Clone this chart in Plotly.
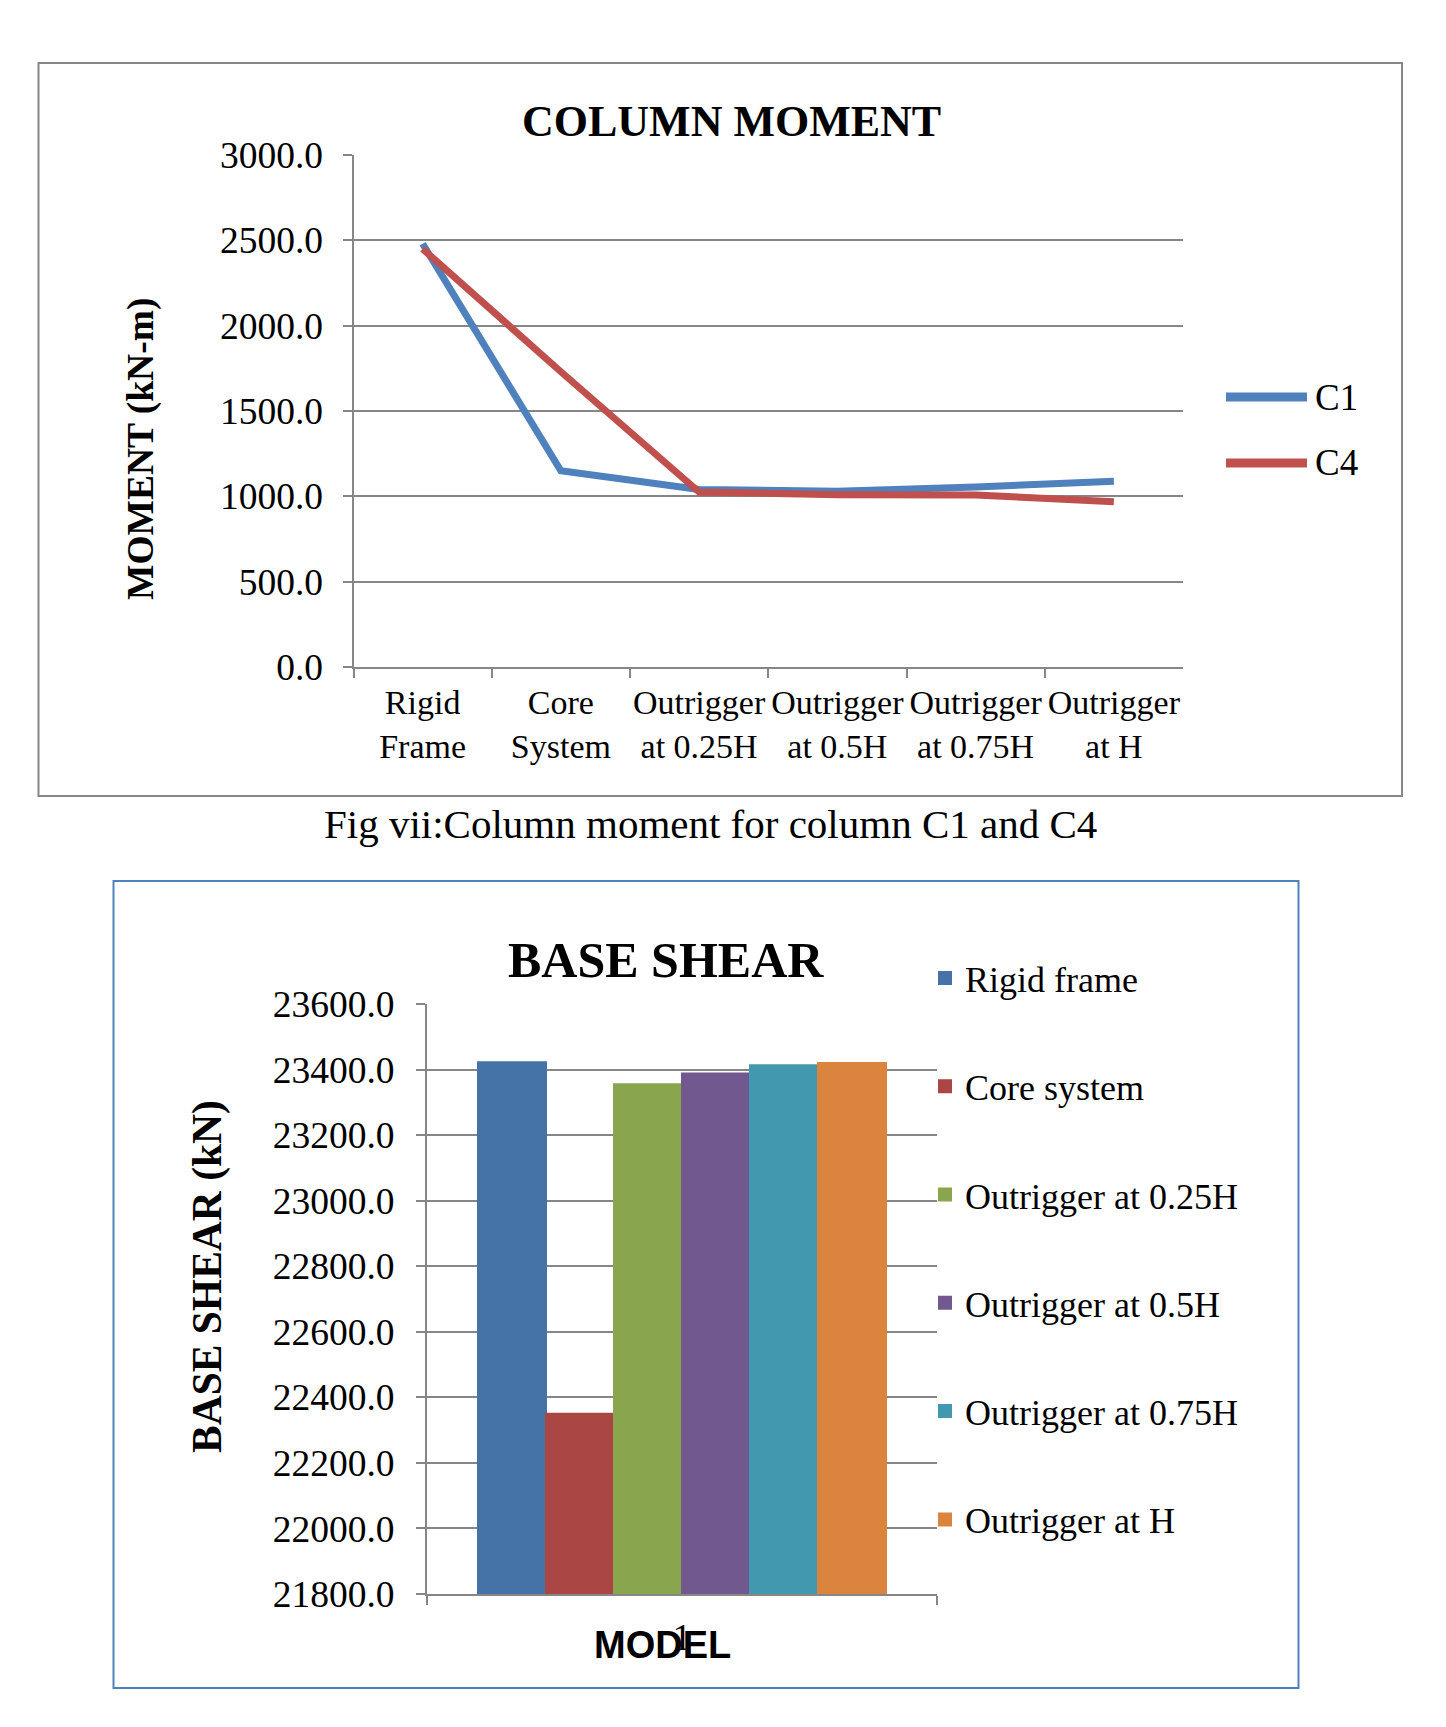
import plotly.graph_objects as go

W, H = 1446, 1727

# ---------------- data ----------------
moment_categories = ["Rigid<br>Frame", "Core<br>System", "Outrigger<br>at 0.25H",
                     "Outrigger<br>at 0.5H", "Outrigger<br>at 0.75H", "Outrigger<br>at H"]
c1_moment = [2480.0, 1150.0, 1040.0, 1030.0, 1055.0, 1088.0]
c4_moment = [2450.0, 1730.0, 1025.0, 1010.0, 1008.0, 968.0]

shear_models = ["Rigid frame", "Core system", "Outrigger at 0.25H",
                "Outrigger at 0.5H", "Outrigger at 0.75H", "Outrigger at H"]
shear_values = [23422.0, 22350.0, 23355.0, 23388.0, 23413.0, 23420.0]
shear_category = ["1"]

# ---------------- styles ----------------
line_colors = ["#4F81BD", "#C0504D"]
bar_colors = ["#4572A7", "#AA4643", "#89A54E", "#71588F", "#4198AF", "#DB843D"]
GRID = "#868686"
SERIF = "Liberation Serif, Times New Roman, serif"
SANS = "Liberation Sans, Arial, sans-serif"


def px(x):
    return x / W


def py(y):
    return 1 - y / H


fig = go.Figure()

fig.add_trace(go.Scatter(x=moment_categories, y=c1_moment, mode="lines", name="C1",
                         line=dict(color=line_colors[0], width=7), showlegend=False,
                         xaxis="x", yaxis="y"))
fig.add_trace(go.Scatter(x=moment_categories, y=c4_moment, mode="lines", name="C4",
                         line=dict(color=line_colors[1], width=7), showlegend=False,
                         xaxis="x", yaxis="y"))

for i, (name, val) in enumerate(zip(shear_models, shear_values)):
    fig.add_trace(go.Bar(x=shear_category, y=[val], name=name, marker_color=bar_colors[i],
                         marker_line=dict(color=bar_colors[i], width=2),
                         xaxis="x2", yaxis="y2", legend="legend", legendgroup=name))

axis_common = dict(showline=True, linecolor=GRID, linewidth=2, ticks="outside",
                   tickcolor=GRID, tickwidth=2, ticklen=9, zeroline=False, automargin=False)
xfont = dict(family=SERIF, size=34, color="black")
yfont = dict(family=SERIF, size=37.5, color="black")

fig.update_layout(
    template="none",
    width=W, height=H,
    margin=dict(l=0, r=0, t=0, b=0, pad=0),
    paper_bgcolor="white", plot_bgcolor="white",
    showlegend=True,
    barmode="group", bargap=0.2, bargroupgap=0,
    xaxis=dict(domain=[px(353.5), px(1183)], anchor="y", type="category",
               range=[-0.5, 5.5], tickson="boundaries", showgrid=False, tickfont=xfont,
               tickangle=0, ticklabelstandoff=4, **axis_common),
    yaxis=dict(domain=[py(667), py(155)], anchor="x", range=[0, 3000], dtick=500,
               tickformat=".1f", showgrid=True, gridcolor=GRID, gridwidth=2,
               tickfont=yfont, ticklabelstandoff=12, **axis_common),
    xaxis2=dict(domain=[px(427), px(937)], anchor="y2", type="category",
                range=[-0.5, 0.5], tickson="boundaries", showgrid=False, tickangle=0,
                tickfont=dict(family=SERIF, size=38, color="black"),
                ticklabelstandoff=8, **axis_common),
    yaxis2=dict(domain=[py(1594), py(1004)], anchor="x2", range=[21800, 23600], dtick=200,
                tickformat=".1f", showgrid=True, gridcolor=GRID, gridwidth=2,
                tickfont=yfont, ticklabelstandoff=14, **axis_common),
    legend=dict(x=px(925), y=py(948), xanchor="left", yanchor="top",
                font=dict(family=SERIF, size=36, color="black"),
                tracegroupgap=58.5, bgcolor="rgba(0,0,0,0)", borderwidth=0),
)

shapes = [
    dict(type="rect", xref="paper", yref="paper", x0=px(38.5), x1=px(1402), y0=py(796),
         y1=py(63), line=dict(color=GRID, width=2), fillcolor="rgba(0,0,0,0)"),
    dict(type="rect", xref="paper", yref="paper", x0=px(113.5), x1=px(1298.5), y0=py(1688),
         y1=py(881), line=dict(color="#4F81BD", width=2), fillcolor="rgba(0,0,0,0)"),
]
# manual legend for the line chart
for i, (nm, yy) in enumerate([("C1", 397), ("C4", 463)]):
    shapes.append(dict(type="line", xref="paper", yref="paper", x0=px(1226), x1=px(1307),
                       y0=py(yy), y1=py(yy), line=dict(color=line_colors[i], width=9)))
fig.update_layout(shapes=shapes)

def ann(text, x, y, size, family=SERIF, angle=0, xanchor="center"):
    return dict(text=text, x=px(x), y=py(y), xref="paper", yref="paper", showarrow=False,
                xanchor=xanchor, yanchor="middle", textangle=angle,
                font=dict(family=family, size=size, color="black"))

annotations = [
    ann("<b>COLUMN MOMENT</b>", 731, 122, 44),
    ann("<b>MOMENT (kN-m)</b>", 141, 449, 37.5, angle=-90),
    ann("Fig vii:Column moment for column C1 and C4", 710, 824, 41),
    ann("<b>BASE SHEAR</b>", 666, 960, 50),
    ann("<b>BASE SHEAR (kN)</b>", 207, 1277, 41.5, angle=-90),
    ann("<b>MODEL</b>", 662, 1645, 38, family=SANS),
    ann("C1", 1313, 397, 37, xanchor="left"),
    ann("C4", 1313, 463, 37, xanchor="left"),
]
fig.update_layout(annotations=annotations)

fig.write_html("out.html")
